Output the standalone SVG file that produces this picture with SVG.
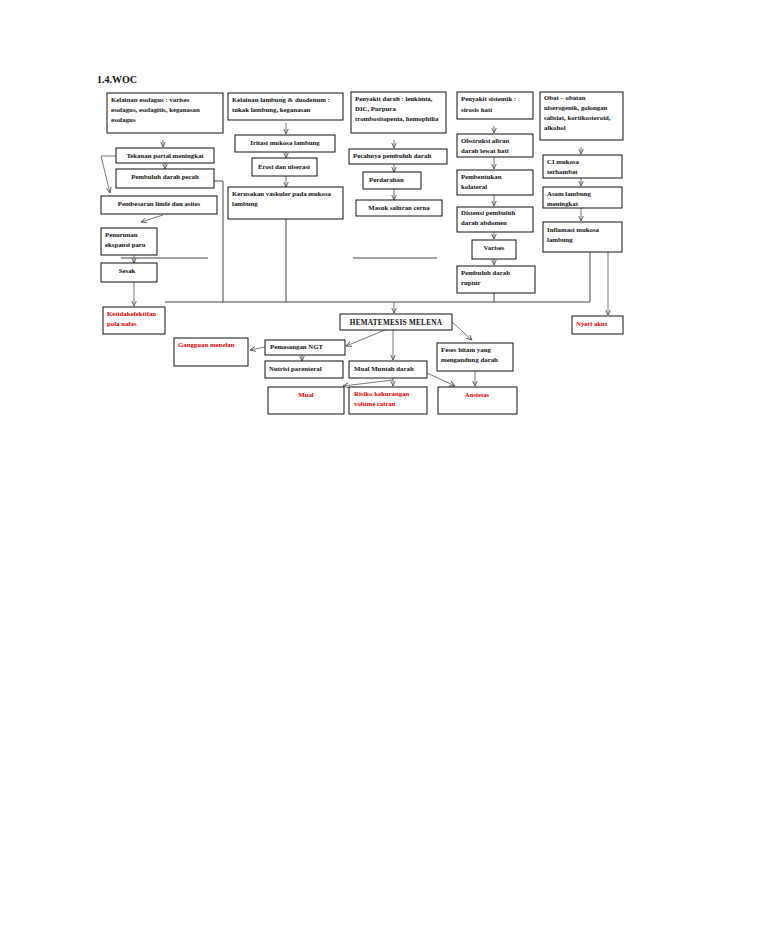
<svg xmlns="http://www.w3.org/2000/svg" width="768" height="932" viewBox="0 0 768 932">
<style>
.b{fill:#fff;stroke:#111;stroke-width:1}
.t{font-family:"Liberation Serif","Times New Roman",serif;font-size:6.8px;font-weight:bold;fill:#111}
.r{fill:#e00000}
.c{text-anchor:middle}
.l{fill:none;stroke:#444;stroke-width:1}
.a{fill:none;stroke:#555;stroke-width:0.8;marker-end:url(#ah)}
</style>
<defs>
<marker id="ah" viewBox="0 0 6 6" refX="5.5" refY="3" markerWidth="6" markerHeight="6" markerUnits="userSpaceOnUse" orient="auto">
<path d="M0,0.5 L5.5,3 L0,5.5" fill="none" stroke="#555" stroke-width="0.9"/>
</marker>
</defs>
<rect width="768" height="932" fill="#fff"/>
<text x="97" y="83" style="font-family:'Liberation Serif',serif;font-size:10px;font-weight:bold" fill="#111">1.4.WOC</text>

<g id="connectors">
<line class="a" x1="163" y1="140" x2="163" y2="147"/>
<line class="a" x1="165" y1="163" x2="165" y2="169"/>
<polyline class="a" points="116,156 101,156 110,193"/>
<polyline class="l" points="214,181 223,181 223,302"/>
<line class="a" x1="163" y1="215" x2="141" y2="222"/>
<line class="l" x1="121" y1="258" x2="208" y2="258" stroke="#222"/>
<line class="a" x1="134" y1="255" x2="134" y2="263"/>
<line class="a" x1="134" y1="282" x2="134" y2="306"/>
<line class="a" x1="286" y1="123" x2="286" y2="134"/>
<line class="a" x1="286" y1="152" x2="286" y2="158"/>
<line class="a" x1="286" y1="176" x2="286" y2="187"/>
<line class="l" x1="286" y1="219" x2="286" y2="302"/>
<line class="a" x1="394" y1="140" x2="394" y2="148"/>
<line class="a" x1="394" y1="164" x2="394" y2="172"/>
<line class="a" x1="394" y1="189" x2="394" y2="200"/>
<line class="l" x1="353" y1="258" x2="437" y2="258" stroke="#222"/>
<line class="a" x1="494" y1="126" x2="494" y2="133"/>
<line class="a" x1="494" y1="157" x2="494" y2="169"/>
<line class="a" x1="494" y1="195" x2="494" y2="206"/>
<line class="a" x1="494" y1="232" x2="494" y2="239"/>
<line class="a" x1="494" y1="259" x2="494" y2="265"/>
<line class="l" x1="494" y1="293" x2="494" y2="302"/>
<line class="a" x1="581" y1="147" x2="581" y2="154"/>
<line class="a" x1="581" y1="178" x2="581" y2="186"/>
<line class="a" x1="581" y1="208" x2="581" y2="221"/>
<line class="l" x1="590" y1="252" x2="590" y2="302"/>
<line class="l" x1="165" y1="302" x2="590" y2="302"/>
<line class="a" x1="608" y1="252" x2="608" y2="315"/>
<line class="a" x1="394" y1="302" x2="394" y2="313"/>
<line class="a" x1="452" y1="322" x2="472" y2="340"/>
<line class="a" x1="385" y1="330" x2="346" y2="346"/>
<line class="a" x1="265" y1="347" x2="250" y2="350"/>
<line class="a" x1="302" y1="355" x2="302" y2="361"/>
<line class="a" x1="393" y1="330" x2="393" y2="360"/>
<line class="a" x1="393" y1="380" x2="343" y2="386"/>
<line class="a" x1="393" y1="378" x2="393" y2="386"/>
<line class="a" x1="427" y1="373" x2="455" y2="386"/>
<line class="a" x1="475" y1="371" x2="475" y2="386"/>
</g>

<g id="n1"><rect class="b" x="107" y="93" width="116" height="40"/>
<text class="t" x="111" y="102">Kelainan esofagus : varises</text>
<text class="t" x="111" y="112">esofagus, esofagitis, keganasan</text>
<text class="t" x="111" y="122">esofagus</text></g>
<g id="n2"><rect class="b" x="228" y="93" width="115" height="27"/>
<text class="t" x="232" y="102">Kelainan lambung &amp; duodenum :</text>
<text class="t" x="232" y="112">tukak lambung, keganasan</text></g>
<g id="n3"><rect class="b" x="351" y="92" width="95" height="41"/>
<text class="t" x="355" y="101">Penyakit darah : leukimia,</text>
<text class="t" x="355" y="111">DIC, Purpura</text>
<text class="t" x="355" y="121">trombositopenia, hemophilia</text></g>
<g id="n4"><rect class="b" x="457" y="92" width="76" height="27"/>
<text class="t" x="461" y="101">Penyakit sistemik :</text>
<text class="t" x="461" y="112">sirosis hati</text></g>
<g id="n5"><rect class="b" x="540" y="92" width="83" height="48"/>
<text class="t" x="544" y="100">Obat – obatan</text>
<text class="t" x="544" y="110">ulserogenik, golongan</text>
<text class="t" x="544" y="120">salisiat, kortikosteroid,</text>
<text class="t" x="544" y="130">alkohol</text></g>

<g id="n6"><rect class="b" x="116" y="148" width="98" height="15"/>
<text class="t c" x="165" y="158">Tekanan portal meningkat</text></g>
<g id="n7"><rect class="b" x="116" y="169" width="98" height="19"/>
<text class="t c" x="165" y="179">Pembuluh darah pecah</text></g>
<g id="n8"><rect class="b" x="101" y="196" width="116" height="18"/>
<text class="t c" x="159" y="206">Pembesaran limfe dan asites</text></g>
<g id="n9"><rect class="b" x="101" y="228" width="56" height="27"/>
<text class="t" x="105" y="237">Penurunan</text>
<text class="t" x="105" y="247">ekspansi paru</text></g>
<g id="n10"><rect class="b" x="101" y="263" width="56" height="19"/>
<text class="t c" x="127" y="273">Sesak</text></g>
<g id="n11"><rect class="b" x="103" y="307" width="62" height="27"/>
<text class="t r" x="107" y="316">Ketidakefektifan</text>
<text class="t r" x="107" y="326">pola nafas</text></g>

<g id="n12"><rect class="b" x="235" y="135" width="100" height="17"/>
<text class="t c" x="285" y="145">Iritasi mukosa lambung</text></g>
<g id="n13"><rect class="b" x="252" y="158" width="65" height="18"/>
<text class="t c" x="284" y="169">Erosi dan ulserasi</text></g>
<g id="n14"><rect class="b" x="228" y="187" width="115" height="32"/>
<text class="t" x="232" y="196">Kerusakan vaskuler pada mukosa</text>
<text class="t" x="232" y="206">lambung</text></g>

<g id="n15"><rect class="b" x="349" y="149" width="98" height="15"/>
<text class="t" x="353" y="158">Pecahnya pembuluh darah</text></g>
<g id="n16"><rect class="b" x="363" y="172" width="58" height="17"/>
<text class="t" x="369" y="182">Perdarahan</text></g>
<g id="n17"><rect class="b" x="356" y="200" width="86" height="16"/>
<text class="t c" x="399" y="210">Masuk saluran cerna</text></g>

<g id="n18"><rect class="b" x="457" y="134" width="76" height="23"/>
<text class="t" x="461" y="143">Obstruksi aliran</text>
<text class="t" x="461" y="153">darah lewat hati</text></g>
<g id="n19"><rect class="b" x="457" y="170" width="76" height="25"/>
<text class="t" x="461" y="179">Pembentukan</text>
<text class="t" x="461" y="189">kolateral</text></g>
<g id="n20"><rect class="b" x="457" y="207" width="76" height="25"/>
<text class="t" x="461" y="215">Distensi pembuluh</text>
<text class="t" x="461" y="225">darah abdomen</text></g>
<g id="n21"><rect class="b" x="472" y="240" width="44" height="19"/>
<text class="t c" x="494" y="250">Varises</text></g>
<g id="n22"><rect class="b" x="457" y="266" width="78" height="27"/>
<text class="t" x="461" y="275">Pembuluh darah</text>
<text class="t" x="461" y="285">ruptur</text></g>

<g id="n23"><rect class="b" x="543" y="155" width="79" height="23"/>
<text class="t" x="547" y="164">CI mukosa</text>
<text class="t" x="547" y="174">terhambat</text></g>
<g id="n24"><rect class="b" x="543" y="187" width="79" height="21"/>
<text class="t" x="547" y="196">Asam lambung</text>
<text class="t" x="547" y="206">meningkat</text></g>
<g id="n25"><rect class="b" x="543" y="222" width="79" height="30"/>
<text class="t" x="547" y="232">Inflamasi mukosa</text>
<text class="t" x="547" y="242">lambung</text></g>
<g id="n26"><rect class="b" x="572" y="316" width="51" height="18"/>
<text class="t r" x="576" y="326">Nyeri akut</text></g>

<g id="n27"><rect class="b" x="340" y="314" width="112" height="16"/>
<text class="t c" x="396" y="325" style="font-size:7.2px;letter-spacing:0.3px">HEMATEMESIS MELENA</text></g>
<g id="n28"><rect class="b" x="265" y="340" width="80" height="15"/>
<text class="t" x="270" y="349">Pemasangan NGT</text></g>
<g id="n29"><rect class="b" x="174" y="338" width="74" height="28"/>
<text class="t r" x="178" y="347">Gangguan menelan</text></g>
<g id="n30"><rect class="b" x="265" y="361" width="78" height="17"/>
<text class="t" x="269" y="371">Nutrisi parenteral</text></g>
<g id="n31"><rect class="b" x="349" y="361" width="78" height="17"/>
<text class="t" x="354" y="371">Mual  Muntah darah</text></g>
<g id="n32"><rect class="b" x="437" y="343" width="76" height="28"/>
<text class="t" x="441" y="352">Feses hitam yang</text>
<text class="t" x="441" y="362">mengandung darah</text></g>
<g id="n33"><rect class="b" x="268" y="387" width="76" height="27"/>
<text class="t r c" x="306" y="397">Mual</text></g>
<g id="n34"><rect class="b" x="349" y="387" width="78" height="27"/>
<text class="t r" x="354" y="396">Risiko kekurangan</text>
<text class="t r" x="354" y="406">volume cairan</text></g>
<g id="n35"><rect class="b" x="438" y="387" width="79" height="27"/>
<text class="t r c" x="477" y="397">Ansietas</text></g>
</svg>
